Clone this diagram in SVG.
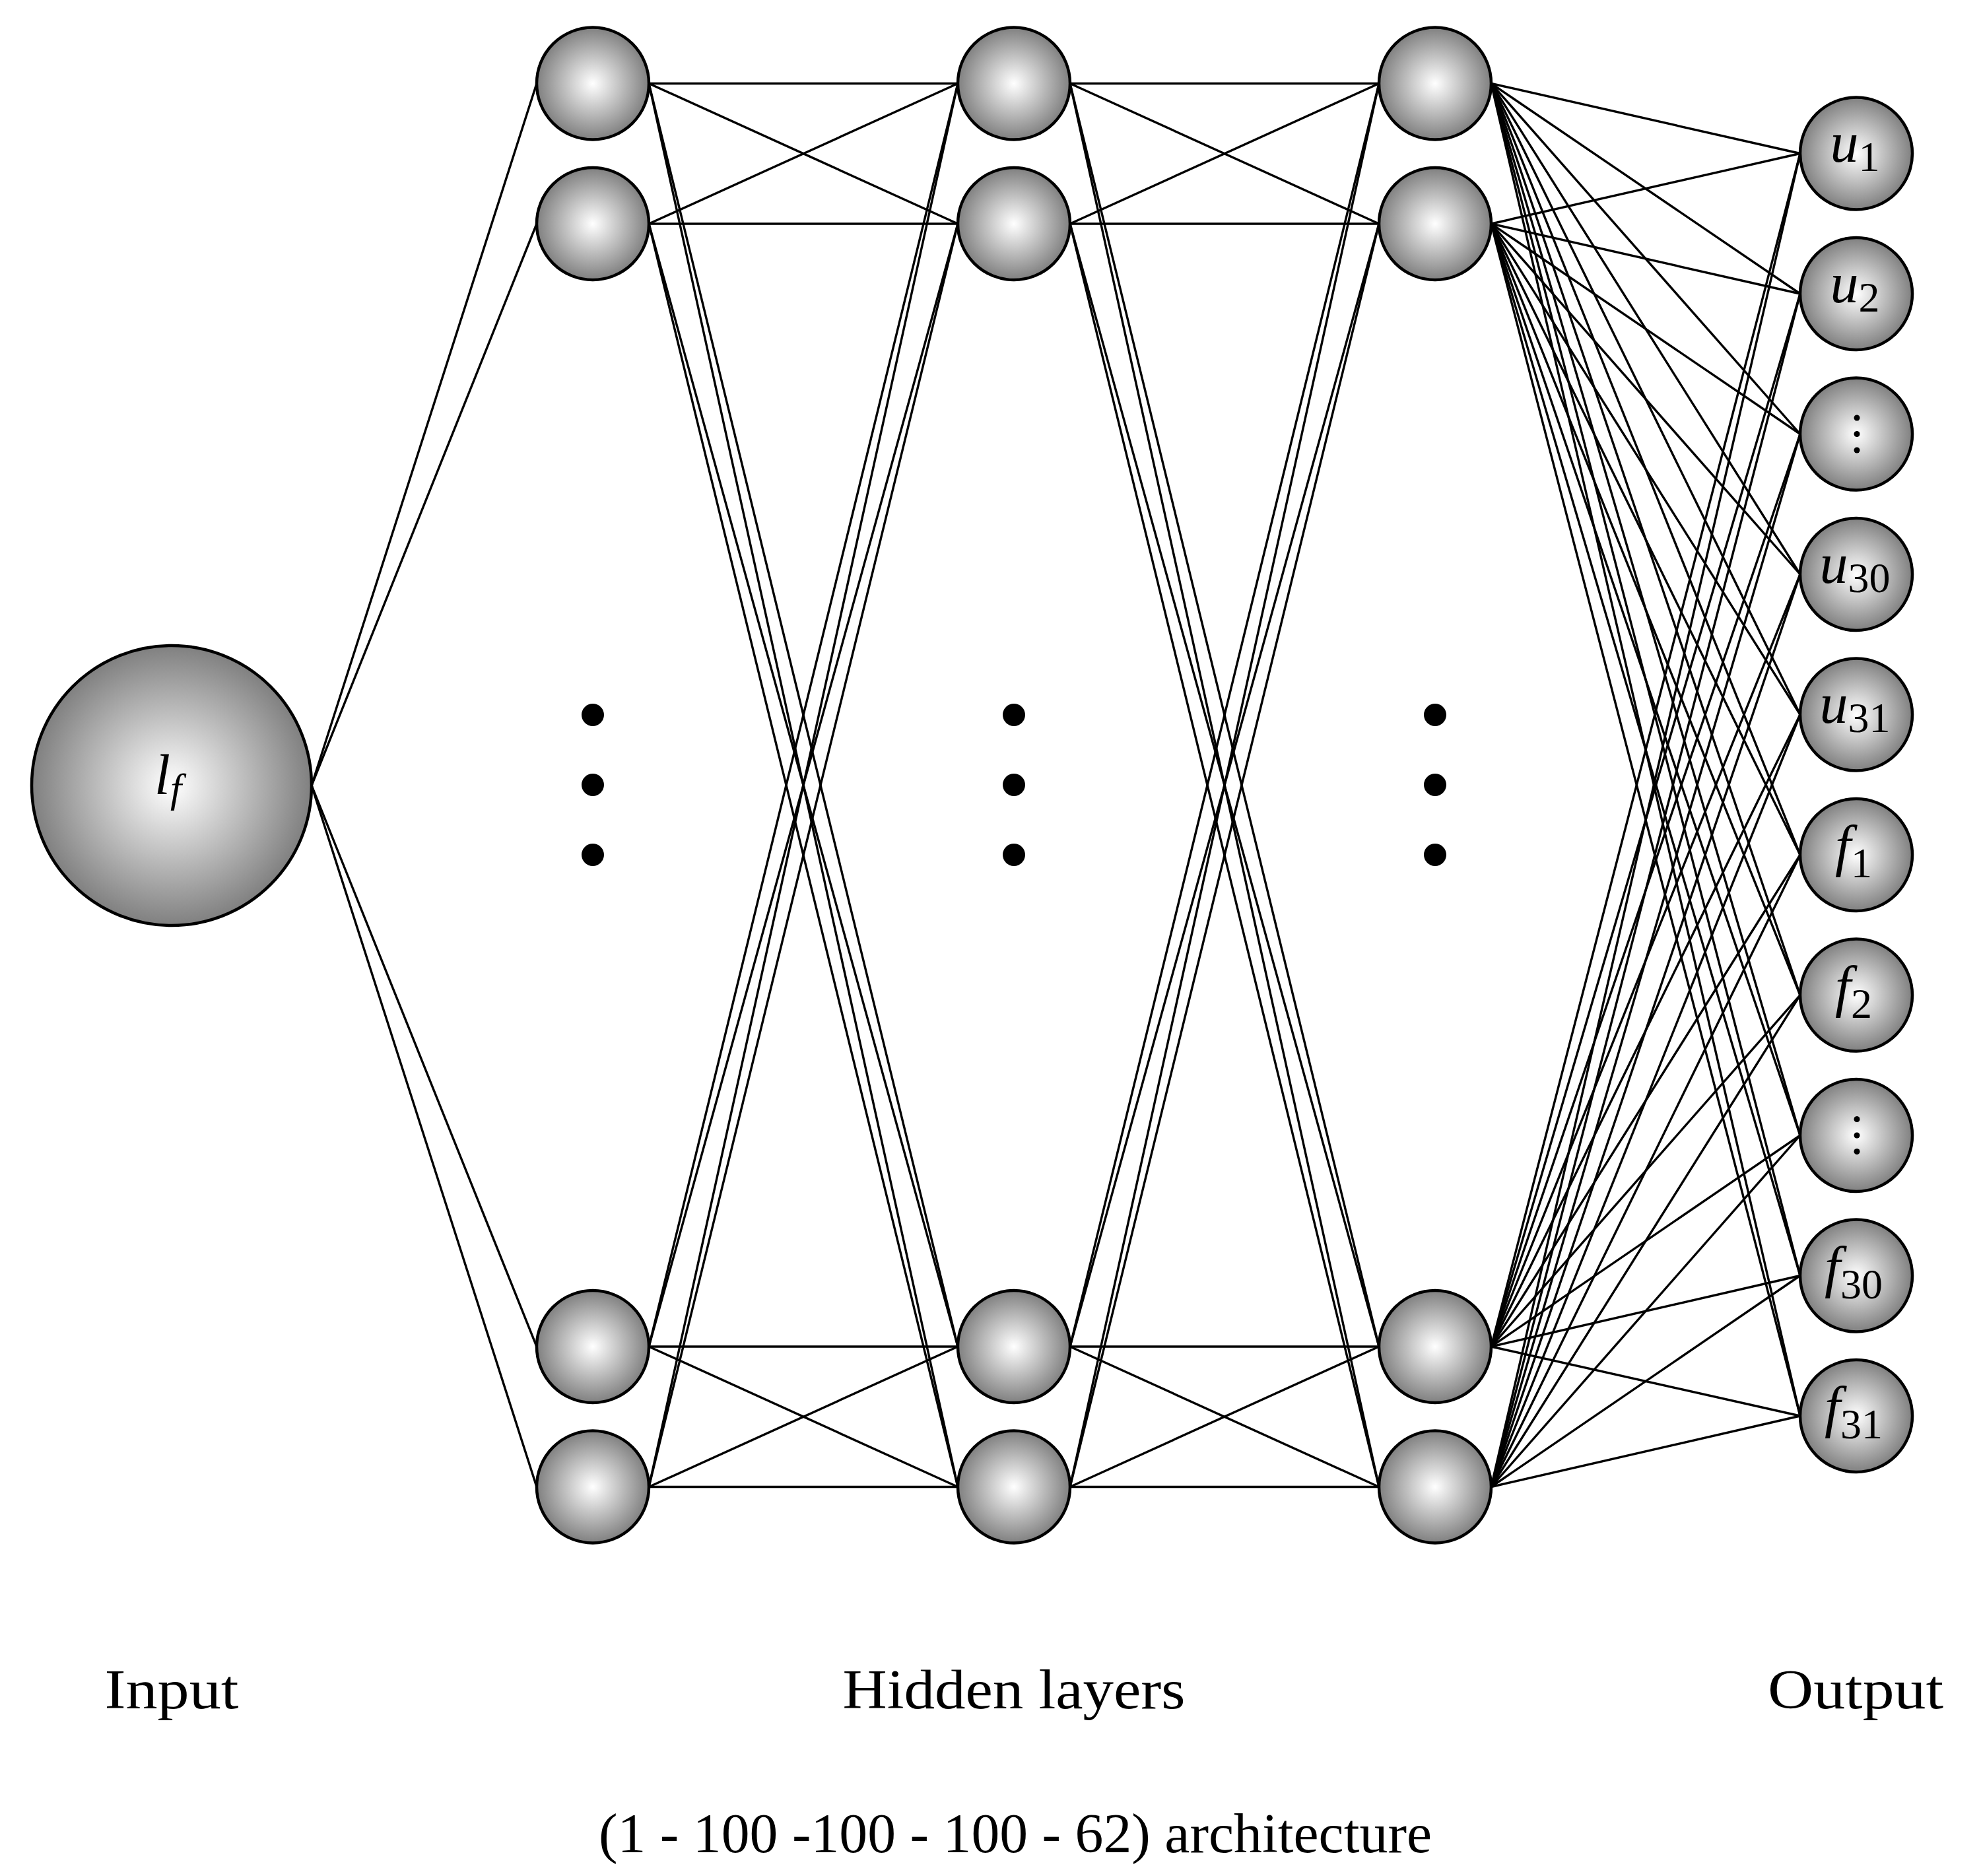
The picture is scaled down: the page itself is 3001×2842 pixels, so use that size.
<svg xmlns="http://www.w3.org/2000/svg" width="3001" height="2842" viewBox="0 0 3001 2842">
<style>
.node{fill:url(#sphere);stroke:#000;stroke-width:4.5}
.edge{stroke:#000;stroke-width:3.4;fill:none}
.dot{fill:#000}
.lbl{font-family:"Liberation Serif","Times New Roman",serif;font-size:84px;fill:#000}
.math{font-family:"Liberation Serif","Times New Roman",serif;font-size:86px;font-style:italic;fill:#000}
.sub{font-style:normal;font-size:64px}
.subi{font-style:italic;font-size:62px}
</style>
<defs>
<radialGradient id="sphere" cx="50%" cy="50%" r="50%">
<stop offset="0" stop-color="#ffffff"/>
<stop offset="1" stop-color="#808080"/>
</radialGradient>
</defs>
<rect width="3001" height="2842" fill="#fff"/>
<g id="connectors">
<line class="edge" x1="472" y1="1190" x2="813" y2="126.5"/>
<line class="edge" x1="472" y1="1190" x2="813" y2="339"/>
<line class="edge" x1="472" y1="1190" x2="813" y2="2040"/>
<line class="edge" x1="472" y1="1190" x2="813" y2="2252.5"/>
<line class="edge" x1="983" y1="126.5" x2="1451" y2="126.5"/>
<line class="edge" x1="983" y1="126.5" x2="1451" y2="339"/>
<line class="edge" x1="983" y1="126.5" x2="1451" y2="2040"/>
<line class="edge" x1="983" y1="126.5" x2="1451" y2="2252.5"/>
<line class="edge" x1="983" y1="339" x2="1451" y2="126.5"/>
<line class="edge" x1="983" y1="339" x2="1451" y2="339"/>
<line class="edge" x1="983" y1="339" x2="1451" y2="2040"/>
<line class="edge" x1="983" y1="339" x2="1451" y2="2252.5"/>
<line class="edge" x1="983" y1="2040" x2="1451" y2="126.5"/>
<line class="edge" x1="983" y1="2040" x2="1451" y2="339"/>
<line class="edge" x1="983" y1="2040" x2="1451" y2="2040"/>
<line class="edge" x1="983" y1="2040" x2="1451" y2="2252.5"/>
<line class="edge" x1="983" y1="2252.5" x2="1451" y2="126.5"/>
<line class="edge" x1="983" y1="2252.5" x2="1451" y2="339"/>
<line class="edge" x1="983" y1="2252.5" x2="1451" y2="2040"/>
<line class="edge" x1="983" y1="2252.5" x2="1451" y2="2252.5"/>
<line class="edge" x1="1621" y1="126.5" x2="2089" y2="126.5"/>
<line class="edge" x1="1621" y1="126.5" x2="2089" y2="339"/>
<line class="edge" x1="1621" y1="126.5" x2="2089" y2="2040"/>
<line class="edge" x1="1621" y1="126.5" x2="2089" y2="2252.5"/>
<line class="edge" x1="1621" y1="339" x2="2089" y2="126.5"/>
<line class="edge" x1="1621" y1="339" x2="2089" y2="339"/>
<line class="edge" x1="1621" y1="339" x2="2089" y2="2040"/>
<line class="edge" x1="1621" y1="339" x2="2089" y2="2252.5"/>
<line class="edge" x1="1621" y1="2040" x2="2089" y2="126.5"/>
<line class="edge" x1="1621" y1="2040" x2="2089" y2="339"/>
<line class="edge" x1="1621" y1="2040" x2="2089" y2="2040"/>
<line class="edge" x1="1621" y1="2040" x2="2089" y2="2252.5"/>
<line class="edge" x1="1621" y1="2252.5" x2="2089" y2="126.5"/>
<line class="edge" x1="1621" y1="2252.5" x2="2089" y2="339"/>
<line class="edge" x1="1621" y1="2252.5" x2="2089" y2="2040"/>
<line class="edge" x1="1621" y1="2252.5" x2="2089" y2="2252.5"/>
<g>
<line class="edge" x1="2259" y1="126.5" x2="2727" y2="232.5"/>
<line class="edge" x1="2259" y1="126.5" x2="2727" y2="445"/>
<line class="edge" x1="2259" y1="126.5" x2="2727" y2="657.5"/>
<line class="edge" x1="2259" y1="126.5" x2="2727" y2="870"/>
<line class="edge" x1="2259" y1="126.5" x2="2727" y2="1082.5"/>
<line class="edge" x1="2259" y1="126.5" x2="2727" y2="1295"/>
<line class="edge" x1="2259" y1="126.5" x2="2727" y2="1507.5"/>
<line class="edge" x1="2259" y1="126.5" x2="2727" y2="1720"/>
<line class="edge" x1="2259" y1="126.5" x2="2727" y2="1932.5"/>
<line class="edge" x1="2259" y1="126.5" x2="2727" y2="2145"/>
</g>
<g>
<line class="edge" x1="2259" y1="339" x2="2727" y2="232.5"/>
<line class="edge" x1="2259" y1="339" x2="2727" y2="445"/>
<line class="edge" x1="2259" y1="339" x2="2727" y2="657.5"/>
<line class="edge" x1="2259" y1="339" x2="2727" y2="870"/>
<line class="edge" x1="2259" y1="339" x2="2727" y2="1082.5"/>
<line class="edge" x1="2259" y1="339" x2="2727" y2="1295"/>
<line class="edge" x1="2259" y1="339" x2="2727" y2="1507.5"/>
<line class="edge" x1="2259" y1="339" x2="2727" y2="1720"/>
<line class="edge" x1="2259" y1="339" x2="2727" y2="1932.5"/>
<line class="edge" x1="2259" y1="339" x2="2727" y2="2145"/>
</g>
<g>
<line class="edge" x1="2259" y1="2040" x2="2727" y2="232.5"/>
<line class="edge" x1="2259" y1="2040" x2="2727" y2="445"/>
<line class="edge" x1="2259" y1="2040" x2="2727" y2="657.5"/>
<line class="edge" x1="2259" y1="2040" x2="2727" y2="870"/>
<line class="edge" x1="2259" y1="2040" x2="2727" y2="1082.5"/>
<line class="edge" x1="2259" y1="2040" x2="2727" y2="1295"/>
<line class="edge" x1="2259" y1="2040" x2="2727" y2="1507.5"/>
<line class="edge" x1="2259" y1="2040" x2="2727" y2="1720"/>
<line class="edge" x1="2259" y1="2040" x2="2727" y2="1932.5"/>
<line class="edge" x1="2259" y1="2040" x2="2727" y2="2145"/>
</g>
<g>
<line class="edge" x1="2259" y1="2252.5" x2="2727" y2="232.5"/>
<line class="edge" x1="2259" y1="2252.5" x2="2727" y2="445"/>
<line class="edge" x1="2259" y1="2252.5" x2="2727" y2="657.5"/>
<line class="edge" x1="2259" y1="2252.5" x2="2727" y2="870"/>
<line class="edge" x1="2259" y1="2252.5" x2="2727" y2="1082.5"/>
<line class="edge" x1="2259" y1="2252.5" x2="2727" y2="1295"/>
<line class="edge" x1="2259" y1="2252.5" x2="2727" y2="1507.5"/>
<line class="edge" x1="2259" y1="2252.5" x2="2727" y2="1720"/>
<line class="edge" x1="2259" y1="2252.5" x2="2727" y2="1932.5"/>
<line class="edge" x1="2259" y1="2252.5" x2="2727" y2="2145"/>
</g>
</g>

<g id="input">
<circle class="node" cx="260" cy="1190" r="212"/>
<text class="math" x="234" y="1203" font-size="92">l<tspan class="subi" dy="12">f</tspan></text>
</g>

<g id="h1_1"><circle class="node" cx="898" cy="126.5" r="85"/></g>
<g id="h1_2"><circle class="node" cx="898" cy="339" r="85"/></g>
<g id="h1_99"><circle class="node" cx="898" cy="2040" r="85"/></g>
<g id="h1_100"><circle class="node" cx="898" cy="2252.5" r="85"/></g>
<g id="h1_dots"><circle class="dot" cx="898" cy="1083" r="17"/><circle class="dot" cx="898" cy="1189" r="17"/><circle class="dot" cx="898" cy="1295" r="17"/></g>

<g id="h2_1"><circle class="node" cx="1536" cy="126.5" r="85"/></g>
<g id="h2_2"><circle class="node" cx="1536" cy="339" r="85"/></g>
<g id="h2_99"><circle class="node" cx="1536" cy="2040" r="85"/></g>
<g id="h2_100"><circle class="node" cx="1536" cy="2252.5" r="85"/></g>
<g id="h2_dots"><circle class="dot" cx="1536" cy="1083" r="17"/><circle class="dot" cx="1536" cy="1189" r="17"/><circle class="dot" cx="1536" cy="1295" r="17"/></g>

<g id="h3_1"><circle class="node" cx="2174" cy="126.5" r="85"/></g>
<g id="h3_2"><circle class="node" cx="2174" cy="339" r="85"/></g>
<g id="h3_99"><circle class="node" cx="2174" cy="2040" r="85"/></g>
<g id="h3_100"><circle class="node" cx="2174" cy="2252.5" r="85"/></g>
<g id="h3_dots"><circle class="dot" cx="2174" cy="1083" r="17"/><circle class="dot" cx="2174" cy="1189" r="17"/><circle class="dot" cx="2174" cy="1295" r="17"/></g>

<g id="out_u1"><circle class="node" cx="2812" cy="232.5" r="85"/>
<text class="math" x="2810" y="245" text-anchor="middle">u<tspan class="sub" dy="14">1</tspan></text></g>
<g id="out_u2"><circle class="node" cx="2812" cy="445" r="85"/>
<text class="math" x="2810" y="457.5" text-anchor="middle">u<tspan class="sub" dy="14">2</tspan></text></g>
<g id="out_udots"><circle class="node" cx="2812" cy="657.5" r="85"/>
<circle class="dot" cx="2813" cy="633" r="4.5"/><circle class="dot" cx="2813" cy="657.5" r="4.5"/><circle class="dot" cx="2813" cy="682" r="4.5"/></g>
<g id="out_u30"><circle class="node" cx="2812" cy="870" r="85"/>
<text class="math" x="2810" y="882.5" text-anchor="middle">u<tspan class="sub" dy="14">30</tspan></text></g>
<g id="out_u31"><circle class="node" cx="2812" cy="1082.5" r="85"/>
<text class="math" x="2810" y="1095" text-anchor="middle">u<tspan class="sub" dy="14">31</tspan></text></g>
<g id="out_f1"><circle class="node" cx="2812" cy="1295" r="85"/>
<text class="math" x="2808" y="1310" text-anchor="middle">f<tspan class="sub" dy="19">1</tspan></text></g>
<g id="out_f2"><circle class="node" cx="2812" cy="1507.5" r="85"/>
<text class="math" x="2808" y="1522.5" text-anchor="middle">f<tspan class="sub" dy="19">2</tspan></text></g>
<g id="out_fdots"><circle class="node" cx="2812" cy="1720" r="85"/>
<circle class="dot" cx="2813" cy="1695.5" r="4.5"/><circle class="dot" cx="2813" cy="1720" r="4.5"/><circle class="dot" cx="2813" cy="1744.5" r="4.5"/></g>
<g id="out_f30"><circle class="node" cx="2812" cy="1932.5" r="85"/>
<text class="math" x="2808" y="1947.5" text-anchor="middle">f<tspan class="sub" dy="19">30</tspan></text></g>
<g id="out_f31"><circle class="node" cx="2812" cy="2145" r="85"/>
<text class="math" x="2808" y="2160" text-anchor="middle">f<tspan class="sub" dy="19">31</tspan></text></g>

<g id="captions">
<text class="lbl" x="260" y="2588" text-anchor="middle" textLength="203" lengthAdjust="spacingAndGlyphs">Input</text>
<text class="lbl" x="1536" y="2588" text-anchor="middle" textLength="519" lengthAdjust="spacingAndGlyphs">Hidden layers</text>
<text class="lbl" x="2811" y="2588" text-anchor="middle" textLength="266" lengthAdjust="spacingAndGlyphs">Output</text>
<text class="lbl" x="1538" y="2806" text-anchor="middle" textLength="1262" lengthAdjust="spacingAndGlyphs">(1 - 100 -100 - 100 - 62) architecture</text>
</g>
</svg>
